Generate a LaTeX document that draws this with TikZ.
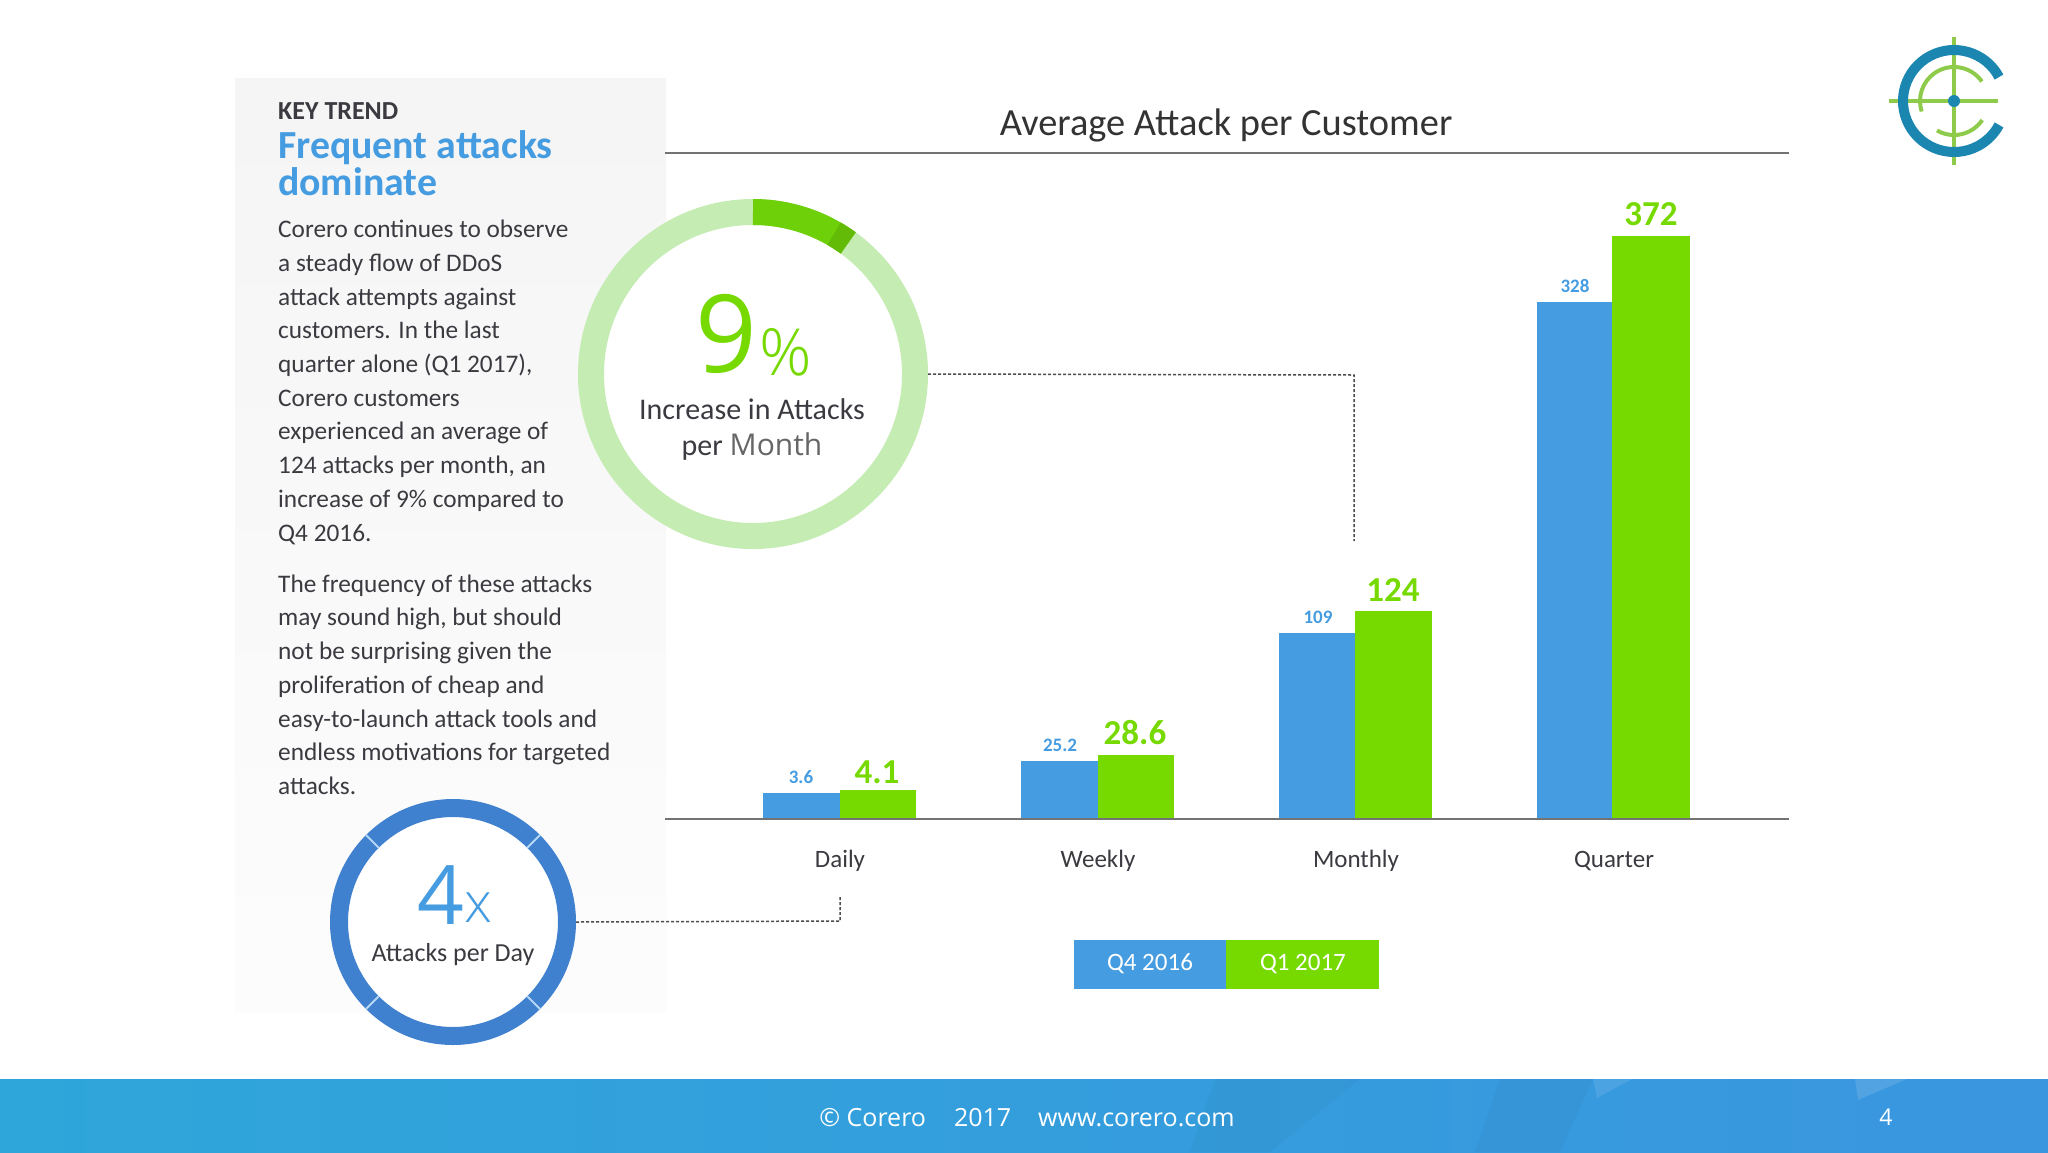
\documentclass[tikz,border=0pt]{standalone}
\usepackage{fontspec}
\setmainfont{Carlito}
\newfontfamily\openfont{Open Sans}
\newfontfamily\openlight{Open Sans Light}
\usepackage{xcolor}
\usetikzlibrary{positioning}
\definecolor{barblue}{HTML}{459CE0}
\definecolor{bargreen}{HTML}{76D900}
\definecolor{ringlight}{HTML}{C5ECB2}
\definecolor{ringdark}{HTML}{6ED008}
\definecolor{ringblue}{HTML}{3F80CF}
\definecolor{logoblue}{HTML}{1B87B0}
\definecolor{logogreen}{HTML}{8FCB4A}
\definecolor{bodygrey}{HTML}{3C3A40}
\tikzset{
  barq4/.style={fill=barblue},
  barq1/.style={fill=bargreen},
  numq4/.style={font=\bfseries\fontsize{19}{19}\selectfont,text=barblue,inner sep=0pt},
  numq1/.style={font=\bfseries\fontsize{35}{35}\selectfont,text=bargreen,inner sep=0pt},
  catlabel/.style={font=\fontsize{25}{25}\selectfont,text=bodygrey,inner sep=0pt},
  leglabel/.style={font=\fontsize{25}{25}\selectfont,text=white,minimum height=49pt,inner sep=0pt},
  leader/.style={draw=black!70,line width=1.5pt,dash pattern=on 3pt off 2pt},
  axisline/.style={draw=black!55,line width=1.6pt},
  ringtext/.style={font=\fontsize{30}{30}\selectfont,text=bodygrey,inner sep=0pt},
  bodytext/.style={anchor=north west,inner sep=0pt,align=left,text=bodygrey,font=\fontsize{25.3}{33.7}\selectfont},
  logoline/.style={logogreen,line width=4pt}
}
\begin{document}
\begin{tikzpicture}[x=1pt,y=1pt]
\useasboundingbox (0,0) rectangle (2048,-1152);
\fill[white] (0,0) rectangle (2048,-1152);
% left panel
\shade[top color=black!4,bottom color=black!1] (235,-78) rectangle (666,-1012);
% footer
\shade[left color={rgb,255:red,46;green,166;blue,218},right color={rgb,255:red,58;green,150;blue,223}] (0,-1079) rectangle (2048,-1152);
\fill[white,opacity=.1] (1593,-1079) -- (1632,-1079) -- (1597,-1098) -- cycle;
\fill[white,opacity=.12] (1855,-1079) -- (1907,-1079) -- (1858,-1100) -- cycle;
\fill[black,opacity=.03] (1500,-1079) -- (1593,-1079) -- (1560,-1152) -- (1475,-1152) -- cycle;
\fill[black,opacity=.03] (1215,-1079) -- (1360,-1079) -- (1270,-1152) -- (1190,-1152) -- cycle;
\node[text=white,font=\openfont\fontsize{25}{25}\selectfont,inner sep=0pt] (footer) at (1027,-1118) {© Corero\hspace{28pt}2017\hspace{27pt}www.corero.com};
\node[text=white,font=\openfont\fontsize{23}{23}\selectfont,inner sep=0pt] (pagenum) at (1886,-1117) {4};
% panel text
\node[anchor=west,inner sep=0pt,text=bodygrey,font=\bfseries\fontsize{26}{26}\selectfont] (keytrend) at (278,-111) {KEY TREND};
\node[anchor=north west,inner sep=0pt,align=left,text=barblue,font=\bfseries\fontsize{39.8}{37}\selectfont] (headline) at (278,-130.5)
  {Frequent attacks\\dominate};
\node[bodytext] (bodyone) at (278,-220)
  {Corero continues to observe\\a steady flow of DDoS\\attack attempts against\\customers. In the last\\quarter alone (Q1 2017),\\Corero customers\\experienced an average of\\124 attacks per month, an\\increase of 9\% compared to\\Q4 2016.};
\node[bodytext] (bodytwo) at (278,-574.5)
  {The frequency of these attacks\\may sound high, but should\\not be surprising given the\\proliferation of cheap and\\easy-to-launch attack tools and\\endless motivations for targeted\\attacks.};
% title and axis
\node[inner sep=0pt,text=black!80,font=\fontsize{38.4}{38.4}\selectfont] (charttitle) at (1226,-125) {Average Attack per Customer};
\coordinate (ruleL) at (665,-153);
\coordinate (ruleR) at (1789,-153);
\draw[axisline] (ruleL) -- (ruleR);
% bars
\fill[barq4] (763,-819) rectangle (840,-793);
\fill[barq1] (840,-819) rectangle (916,-790);
\fill[barq4] (1021,-819) rectangle (1098,-761);
\fill[barq1] (1098,-819) rectangle (1174,-755);
\fill[barq4] (1279,-819) rectangle (1355,-633);
\fill[barq1] (1355,-819) rectangle (1432,-611);
\fill[barq4] (1537,-819) rectangle (1612,-302);
\fill[barq1] (1612,-819) rectangle (1690,-236);
\coordinate (axisL) at (665,-819);
\coordinate (axisR) at (1789,-819);
\draw[axisline] (axisL) -- (axisR);
\node[numq4] (dailyq4) at (801,-777) {3.6};
\node[numq1] (dailyq1) at (877,-772) {4.1};
\node[numq4] (weeklyq4) at (1060,-745) {25.2};
\node[numq1] (weeklyq1) at (1135,-733) {28.6};
\node[numq4] (monthlyq4) at (1318,-617) {109};
\node[numq1] (monthlyq1) at (1393,-590) {124};
\node[numq4] (quarterq4) at (1575,-286) {328};
\node[numq1] (quarterq1) at (1651,-214) {372};
\node[catlabel] (daily) at (840,-861) {Daily};
\node[catlabel] (weekly) at (1098,-861) {Weekly};
\node[catlabel] (monthly) at (1356,-861) {Monthly};
\node[catlabel] (quarter) at (1614,-861) {Quarter};
% legend
\node[leglabel,fill=barblue,minimum width=152pt] (legq4) at (1150,-964) {\raisebox{-2pt}{Q4 2016}};
\node[leglabel,fill=bargreen,minimum width=153pt,right=0pt of legq4] (legq1) {\raisebox{-2pt}{Q1 2017}};
% month ring
\node[circle,draw=ringlight,line width=26pt,minimum size=324pt,inner sep=0pt,fill=white] (ringmonth) at (753,-374) {};
\draw[ringdark,line width=26pt] ([shift={(90:162)}]ringmonth.center) arc[start angle=90,end angle=54,radius=162];
\draw[ringdark!90!black,line width=26pt] ([shift={(60:162)}]ringmonth.center) arc[start angle=60,end angle=54,radius=162];
\node[inner sep=0pt,text=bargreen,font=\openfont\fontsize{108}{108}\selectfont] (ninebig) at (726,-334) {9};
\node[inner sep=0pt,text=bargreen,font=\openlight\fontsize{65}{65}\selectfont] (ninepct) at (786,-352) {\%};
\node[ringtext] (ringmonthA) at (752,-409) {Increase in Attacks};
\node[ringtext] (ringmonthB) at (752,-447) {per {\color{black!60}\openfont\fontsize{30}{30}\selectfont Month}};
% day ring
\node[circle,draw=ringblue,line width=18pt,minimum size=228pt,inner sep=0pt,fill=white] (ringday) at (453,-922) {};
\draw[white!60!barblue,line width=2pt] ([shift={(45:105)}]ringday.center) -- ([shift={(45:123)}]ringday.center);
\draw[white!60!barblue,line width=2pt] ([shift={(135:105)}]ringday.center) -- ([shift={(135:123)}]ringday.center);
\draw[white!60!barblue,line width=2pt] ([shift={(225:105)}]ringday.center) -- ([shift={(225:123)}]ringday.center);
\draw[white!60!barblue,line width=2pt] ([shift={(315:105)}]ringday.center) -- ([shift={(315:123)}]ringday.center);
\node[inner sep=0pt,text=barblue,font=\openfont\fontsize{82}{82}\selectfont] (fourbig) at (441,-895) {4};
\node[inner sep=0pt,text=barblue,font=\openlight\fontsize{56}{56}\selectfont] (fourx) at (478,-908) {x};
\node[ringtext,font=\fontsize{26}{26}\selectfont] (ringdaytext) at (453,-954.5) {Attacks per Day};
% leaders
\coordinate (monthbend) at (1354,-375);
\coordinate (monthend) at (1354,-541);
\draw[leader] (ringmonth.east) -- (monthbend) -- (monthend);
\coordinate (daybend) at (840,-921);
\coordinate (dayend) at (840,-897);
\draw[leader] (ringday.east) -- (daybend) -- (dayend);
% logo
\coordinate (logoC) at (1954,-101);
\draw[logoline] (1889,-101) -- (1998,-101);
\draw[logoline] (1954,-37) -- (1954,-165);
\draw[logoline] ([shift={(35:34)}]logoC) arc[start angle=35,end angle=198,radius=34];
\draw[logoline] ([shift={(240:34)}]logoC) arc[start angle=240,end angle=326,radius=34];
\draw[logoblue,line width=10pt] ([shift={(28:51)}]logoC) arc[start angle=28,end angle=332,radius=51];
\fill[logoblue] (logoC) circle (6);
\end{tikzpicture}
\end{document}
